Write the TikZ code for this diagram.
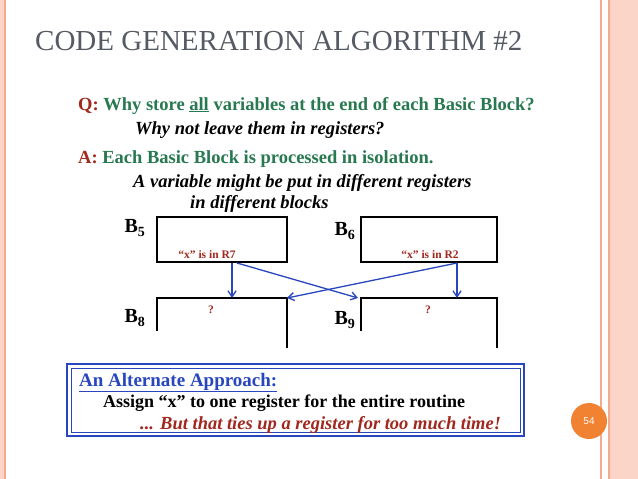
\documentclass[tikz,border=0pt]{standalone}
\usepackage{fontspec}
\usetikzlibrary{arrows.meta}
\setmainfont{Liberation Serif}
\newfontfamily\sansf{Liberation Sans}
\definecolor{salmon}{RGB}{243,170,145}
\definecolor{salmonl}{RGB}{251,214,200}
\definecolor{qred}{RGB}{160,40,30}
\definecolor{qgreen}{RGB}{40,120,80}
\definecolor{ablue}{RGB}{40,70,190}
\definecolor{titleg}{RGB}{85,90,100}
\definecolor{orng}{RGB}{240,130,50}
\begin{document}
\begin{tikzpicture}[x=1pt,y=-1pt,
  txt/.style={anchor=base west,inner sep=0pt},
  blk/.style={draw=black,line width=1.2pt},
  arr/.style={draw=ablue,line width=1.3pt,-{Straight Barb[length=6pt,width=8pt]}},
  lbl/.style={font=\bfseries\fontsize{20}{22}\selectfont,inner sep=0pt},
  red/.style={text=qred,font=\bfseries\fontsize{11.5}{13}\selectfont,inner sep=0pt},
  qa/.style={txt,font=\bfseries\fontsize{18.5}{20}\selectfont},
  qai/.style={txt,font=\bfseries\itshape\fontsize{18.5}{20}\selectfont}]
\useasboundingbox (0,0) rectangle (638,479);
\fill[white] (0,0) rectangle (638,479);
\fill[salmonl] (0,0) rectangle (6,479);
\draw[salmon,line width=1.5pt] (5,0) -- (5,479);
\draw[salmon,line width=1.5pt] (601,0) -- (601,479);
\fill[salmonl] (608,0) rectangle (638,479);
\draw[salmon,line width=1.5pt] (609,0) -- (609,479);
\node[txt,text=titleg,font=\fontsize{29}{31}\selectfont] (title) at (35,50) {CODE GENERATION ALGORITHM \#2};
\node[qa] (q) at (78,110) {\textcolor{qred}{Q:} \textcolor{qgreen}{Why store \underline{all} variables at the end of each Basic Block?}};
\node[qai] (q2) at (135,134) {Why not leave them in registers?};
\node[qa] (a) at (78,163) {\textcolor{qred}{A:} \textcolor{qgreen}{Each Basic Block is processed in isolation.}};
\node[qai] (a2) at (133,187) {A variable might be put in different registers};
\node[qai] (a3) at (190,208) {in different blocks};
% blocks
\draw[blk] (157,217) rectangle (287,262);
\draw[blk] (361,217) rectangle (497,262);
\draw[blk] (157,331) -- (157,298) -- (287,298) -- (287,348);
\draw[blk] (361,331) -- (361,298) -- (497,298) -- (497,348);
\node[lbl] (b5) at (135,228) {B\textsubscript{5}};
\node[lbl] (b6) at (345,231) {B\textsubscript{6}};
\node[lbl] (b8) at (135,318) {B\textsubscript{8}};
\node[lbl] (b9) at (345,320) {B\textsubscript{9}};
\node[red] (r7) at (207,255) {``x'' is in R7};
\node[red] (r2) at (430,255) {``x'' is in R2};
\node[red] (q8) at (211,310) {?};
\node[red] (q9) at (428,310) {?};
\coordinate (s5a) at (232,263); \coordinate (s5b) at (237,263);
\coordinate (s6) at (457,263);
\coordinate (t8a) at (232,298); \coordinate (t8b) at (287,298);
\coordinate (t9a) at (358,298); \coordinate (t9b) at (457,298);
\draw[arr] (s5a) -- (t8a);
\draw[arr] (s5b) -- (t9a);
\draw[arr] (s6) -- (t8b);
\draw[arr] (s6) -- (t9b);
% alternate box
\draw[ablue,line width=2.5pt] (67,364) rectangle (524,436);
\draw[ablue,line width=0.6pt] (71,368) rectangle (520,432);
\node[txt,text=ablue,font=\bfseries\fontsize{19}{21}\selectfont] (alt) at (79,386) {\underline{An Alternate Approach:}};
\node[txt,font=\bfseries\fontsize{18}{20}\selectfont] (asg) at (103,407) {Assign ``x'' to one register for the entire routine};
\node[txt,text=qred,font=\bfseries\itshape\fontsize{18.5}{20}\selectfont] (but) at (140,429) {... But that ties up a register for too much time!};
\node[circle,fill=orng,minimum size=36pt,inner sep=0pt,text=white,font=\sansf\fontsize{10}{11}\selectfont] (pg) at (589,421) {54};
\end{tikzpicture}
\end{document}
